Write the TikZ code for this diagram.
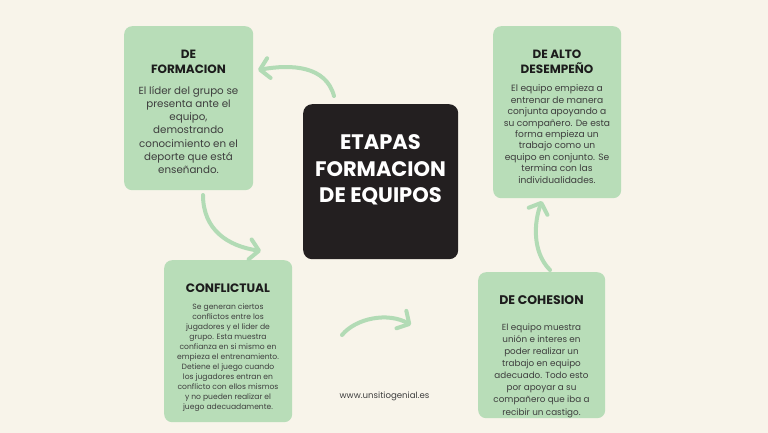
\documentclass[tikz,border=0pt]{standalone}
\usepackage{fontspec}
\setmainfont{Poppins}
\usetikzlibrary{arrows.meta}
\definecolor{bg}{RGB}{248,244,234}
\definecolor{boxgreen}{RGB}{184,221,184}
\definecolor{arrowgreen}{RGB}{178,219,181}
\definecolor{darkbox}{RGB}{35,31,32}
\definecolor{headtxt}{RGB}{28,28,28}
\definecolor{bodytxt}{RGB}{62,62,62}
\tikzset{
  card/.style={fill=boxgreen, rounded corners=8pt, draw=none, inner sep=0pt, anchor=north west},
  centercard/.style={fill=darkbox, rounded corners=9pt, draw=none, inner sep=0pt, anchor=north west},
  headtext/.style={text=headtxt, align=center, inner sep=0pt, font=\bfseries\fontsize{12}{15}\selectfont},
  bodytext/.style={text=bodytxt, align=center, inner sep=0pt},
  arr/.style={draw=arrowgreen, line width=4pt, line cap=round,
    -{Straight Barb[round,length=9pt,width=20pt]}},
}
\begin{document}
\begin{tikzpicture}[x=1pt,y=-1pt]
\useasboundingbox[fill=bg] (0,0) rectangle (768,433);

% cards
\node[card, minimum width=129pt, minimum height=164pt] (formacion) at (124,26) {};
\node[card, minimum width=128pt, minimum height=172pt] (alto) at (493,26) {};
\node[card, minimum width=128pt, minimum height=162pt] (conflictual) at (164,260) {};
\node[card, minimum width=127pt, minimum height=146pt] (cohesion) at (478,272) {};
\node[centercard, minimum width=155pt, minimum height=155pt] (centro) at (303,104) {};

% center title
\node[text=white, align=center, inner sep=0pt, font=\bfseries\fontsize{21}{26.5}\selectfont] (titulo) at (380.5,170) {ETAPAS\\FORMACION\\DE EQUIPOS};

% headings
\node[headtext] (h1) at (188.5,61.5) {DE\\FORMACION};
\node[headtext] (h2) at (557,61.5) {DE ALTO\\DESEMPEÑO};
\node[headtext, font=\bfseries\fontsize{12.2}{14}\selectfont] (h3) at (228,288) {CONFLICTUAL};
\node[headtext, font=\bfseries\fontsize{12.5}{14}\selectfont] (h4) at (541.5,300) {DE COHESION};

% bodies
\node[bodytext, font=\fontsize{10.3}{13.2}\selectfont] (b1) at (188.5,130)
  {El líder del grupo se\\presenta ante el\\equipo,\\demostrando\\conocimiento en el\\deporte que está\\enseñando.};
\node[bodytext, font=\fontsize{9.1}{11.4}\selectfont] (b2) at (557,134)
  {El equipo empieza a\\entrenar de manera\\conjunta apoyando a\\su compañero. De esta\\forma empieza un\\trabajo como un\\equipo en conjunto. Se\\termina con las\\individualidades.};
\node[bodytext, font=\fontsize{7.6}{10}\selectfont] (b3) at (228,358)
  {Se generan ciertos\\conflictos entre los\\jugadores y el lider de\\grupo. Esta muestra\\confianza en si mismo en\\empieza el entrenamiento.\\Detiene el juego cuando\\los jugadores entran en\\conflicto con ellos mismos\\y no pueden realizar el\\juego adecuadamente.};
\node[bodytext, font=\fontsize{8.8}{12.1}\selectfont] (b4) at (541.5,370.5)
  {El equipo muestra\\unión e interes en\\poder realizar un\\trabajo en equipo\\adecuado. Todo esto\\por apoyar a su\\compañero que iba a\\recibir un castigo.};

% website
\node[text=bodytxt, inner sep=0pt, font=\fontsize{8.6}{10}\selectfont] (web) at (384.5,396) {www.unsitiogenial.es};

% arrow end points
\coordinate (a1s) at (334,96);
\coordinate (a1e) at (258,70);
\coordinate (a2s) at (203,195);
\coordinate (a2e) at (261,251);
\coordinate (a3s) at (342,335);
\coordinate (a3e) at (411,325);
\coordinate (a4s) at (550,270);
\coordinate (a4e) at (542,201);

\draw[arr] (a1s) .. controls (326,66) and (292,64) .. (a1e);
\draw[arr] (a2s) .. controls (203,230) and (228,246) .. (a2e);
\draw[arr] (a3s) .. controls (356,318) and (388,312) .. (a3e);
\draw[arr] (a4s) .. controls (532,252) and (534,222) .. (a4e);
\end{tikzpicture}
\end{document}
